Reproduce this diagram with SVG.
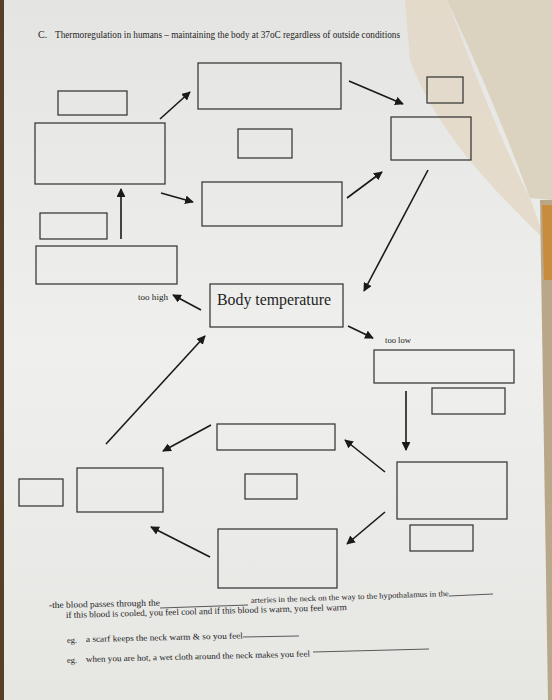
<svg xmlns="http://www.w3.org/2000/svg" width="552" height="700" viewBox="0 0 552 700">
<defs>
<marker id="ah" viewBox="0 0 10 10" refX="9" refY="5" markerWidth="5.5" markerHeight="5.5" orient="auto" markerUnits="strokeWidth">
<path d="M0,0 L10,5 L0,10 Z" fill="#1a1a1a"/>
</marker>
<linearGradient id="paper" x1="0" y1="0" x2="0" y2="1">
<stop offset="0" stop-color="#e4e4e2"/>
<stop offset="0.5" stop-color="#efefed"/>
<stop offset="1" stop-color="#e6e6e3"/>
</linearGradient>
</defs>
<style>
.box{fill:none;stroke:#2e2e2e;stroke-width:1.2}
.arr{stroke:#1a1a1a;stroke-width:1.6;fill:none;marker-end:url(#ah)}
.ln{stroke:#333;stroke-width:0.8}
.t{font-family:"Liberation Serif","Times New Roman",serif;fill:#1e1e1e}
</style>
<!-- background (photo) -->
<rect x="0" y="0" width="552" height="700" fill="url(#paper)"/>
<rect x="0" y="0" width="4" height="700" fill="#5a3f28"/>
<path d="M405 0 L447 0 C470 60 500 140 530 198 L545 240 C505 200 440 140 410 60 Z" fill="#e2d7c4" opacity="0.8"/>
<path d="M447 0 C475 60 505 130 530 198 L552 200 L552 0 Z" fill="#dcd2c0"/>
<path d="M540 200 L552 200 L552 700 L548 700 Z" fill="#b9a78a"/>
<path d="M542 205 L552 205 L552 280 L544 280 Z" fill="#c98b3c"/>
<!-- title -->
<g id="title">
<text class="t" x="38" y="38" font-size="10">C.</text>
<text class="t" x="55" y="38" font-size="10" textLength="345" lengthAdjust="spacingAndGlyphs">Thermoregulation in humans – maintaining the body at 37oC regardless of outside conditions</text>
</g>
<!-- nodes -->
<g id="boxA"><rect class="box" x="58" y="91" width="69" height="24"/></g>
<g id="boxB"><rect class="box" x="198" y="63" width="143" height="46"/></g>
<g id="boxC"><rect class="box" x="427" y="77" width="36" height="26"/></g>
<g id="boxD"><rect class="box" x="391" y="117" width="80" height="43"/></g>
<g id="boxE"><rect class="box" x="35" y="123" width="130" height="61"/></g>
<g id="boxF"><rect class="box" x="238" y="129" width="54" height="29"/></g>
<g id="boxG"><rect class="box" x="202" y="182" width="140" height="44"/></g>
<g id="boxH"><rect class="box" x="40" y="213" width="67" height="26"/></g>
<g id="boxI"><rect class="box" x="36" y="246" width="141" height="38"/></g>
<g id="bodyTemp">
<rect class="box" x="210" y="284" width="133" height="43"/>
<text class="t" x="217" y="305" font-size="16" textLength="114" lengthAdjust="spacingAndGlyphs">Body temperature</text>
</g>
<g id="tooHigh"><text class="t" x="138" y="300" font-size="8" textLength="30" lengthAdjust="spacingAndGlyphs">too high</text></g>
<g id="tooLow"><text class="t" x="385" y="343" font-size="8" textLength="26" lengthAdjust="spacingAndGlyphs">too low</text></g>
<g id="boxJ"><rect class="box" x="374" y="350" width="140" height="33"/></g>
<g id="boxK"><rect class="box" x="432" y="388" width="73" height="26"/></g>
<g id="boxL"><rect class="box" x="217" y="424" width="118" height="26"/></g>
<g id="boxM"><rect class="box" x="19" y="479" width="44" height="27"/></g>
<g id="boxN"><rect class="box" x="77" y="468" width="86" height="44"/></g>
<g id="boxO"><rect class="box" x="245" y="474" width="52" height="25"/></g>
<g id="boxP"><rect class="box" x="397" y="462" width="110" height="57"/></g>
<g id="boxQ"><rect class="box" x="410" y="525" width="63" height="26"/></g>
<g id="boxR"><rect class="box" x="218" y="529" width="119" height="59"/></g>
<!-- connectors -->
<g id="connectors">
<line class="arr" x1="160" y1="119" x2="190" y2="92"/>
<line class="arr" x1="349" y1="81" x2="403" y2="104"/>
<line class="arr" x1="161" y1="193" x2="193" y2="202"/>
<line class="arr" x1="347" y1="198" x2="382" y2="172"/>
<line class="arr" x1="428" y1="170" x2="364" y2="291"/>
<line class="arr" x1="121" y1="239" x2="121" y2="189"/>
<line class="arr" x1="201" y1="310" x2="173" y2="295"/>
<line class="arr" x1="348" y1="326" x2="373" y2="338"/>
<line class="arr" x1="406" y1="391" x2="406" y2="450"/>
<line class="arr" x1="106" y1="444" x2="205" y2="336"/>
<line class="arr" x1="211" y1="425" x2="163" y2="451"/>
<line class="arr" x1="385" y1="472" x2="345" y2="440"/>
<line class="arr" x1="385" y1="512" x2="347" y2="544"/>
<line class="arr" x1="210" y1="557" x2="151" y2="527"/>
</g>
<!-- bottom text -->
<g id="notes">
<text class="t" x="49" y="608" font-size="9" textLength="111" lengthAdjust="spacingAndGlyphs" transform="rotate(-1.2 49 608)">-the blood passes through the</text>
<line class="ln" x1="160" y1="608" x2="248" y2="605"/>
<text class="t" x="251" y="603" font-size="8" textLength="198" lengthAdjust="spacingAndGlyphs" transform="rotate(-2 251 603)">arteries in the neck on the way to the hypothalamus in the</text>
<line class="ln" x1="449" y1="596" x2="493" y2="594"/>
<text class="t" x="66" y="618" font-size="9" textLength="281" lengthAdjust="spacingAndGlyphs" transform="rotate(-1.6 66 618)">if this blood is cooled, you feel cool and if this blood is warm, you feel warm</text>
<text class="t" x="67" y="643" font-size="8.5" transform="rotate(-1.3 67 643)">eg.</text>
<text class="t" x="86" y="642" font-size="8.5" textLength="157" lengthAdjust="spacingAndGlyphs" transform="rotate(-1.3 86 642)">a scarf keeps the neck warm &amp; so you feel</text>
<line class="ln" x1="243" y1="637" x2="299" y2="636"/>
<text class="t" x="67" y="663" font-size="8.5" transform="rotate(-1.4 67 663)">eg.</text>
<text class="t" x="86" y="662" font-size="8.5" textLength="224" lengthAdjust="spacingAndGlyphs" transform="rotate(-1.4 86 662)">when you are hot, a wet cloth around the neck makes you feel</text>
<line class="ln" x1="313" y1="652" x2="429" y2="649"/>
</g>
</svg>
